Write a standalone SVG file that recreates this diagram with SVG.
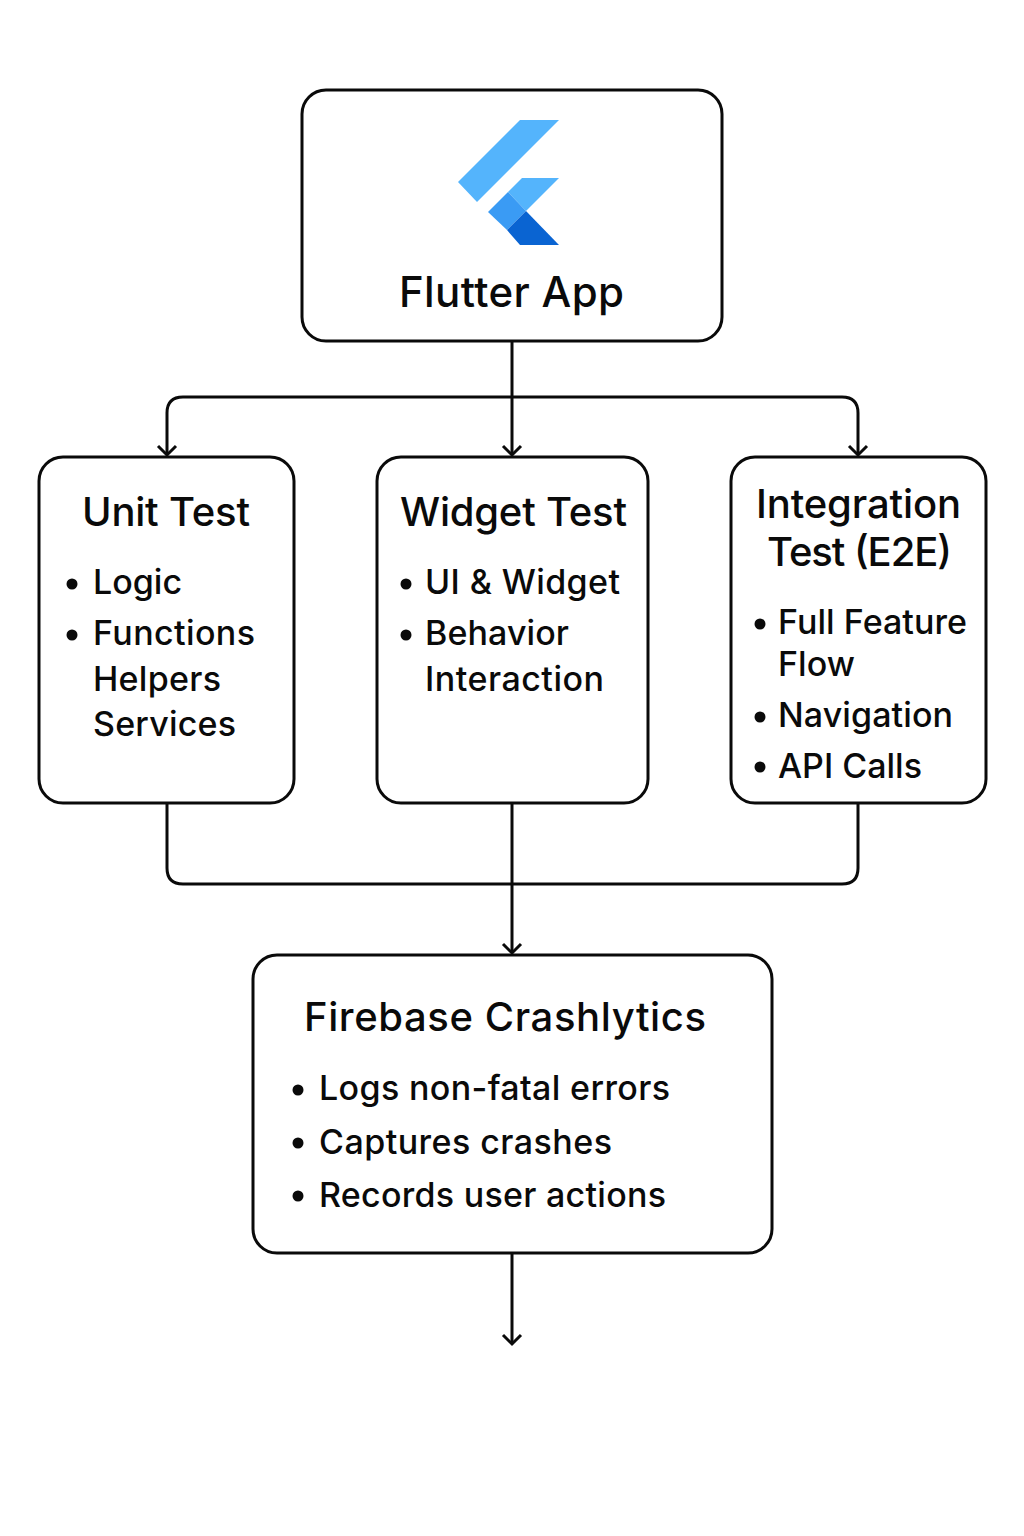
<svg xmlns="http://www.w3.org/2000/svg" width="1024" height="1536" viewBox="0 0 1024 1536">
<style>
.box{fill:#fff;stroke:#0a0a0a;stroke-width:3}
.c{fill:none;stroke:#0a0a0a;stroke-width:3}
.d{fill:#0a0a0a}
text{font-family:"Inter","Liberation Sans",sans-serif;fill:#0a0a0a;font-weight:450}
.t{font-size:40px}
.l{font-size:34px}
</style>
<rect width="1024" height="1536" fill="#fff"/>
<g id="connectors">
<path class="c" d="M512 342V455"/>
<path class="c" d="M512 397H183Q167 397 167 413V455"/>
<path class="c" d="M512 397H842Q858 397 858 413V455"/>
<path class="c" d="M167 803V868Q167 884 183 884H842Q858 884 858 868V803"/>
<path class="c" d="M512 803V953"/>
<path class="c" d="M512 1253V1344"/>
<path class="c" d="M158 446L167 455L176 446"/>
<path class="c" d="M503 446L512 455L521 446"/>
<path class="c" d="M849 446L858 455L867 446"/>
<path class="c" d="M503 944L512 953L521 944"/>
<path class="c" d="M503 1335L512 1344L521 1335"/>
</g>
<g id="flutter-app">
<rect class="box" x="302" y="90" width="420" height="251" rx="24"/>
<polygon points="520,120 559,120 477,202 458,182" fill="#54B4FC"/>
<polygon points="522,178 559,178 526,211 508,192" fill="#54B4FC"/>
<polygon points="508,192 526,211 507,230 488,212" fill="#3A9BF4"/>
<polygon points="526,211 559,245 520,245 507,230" fill="#0A64D2"/>
<text x="399" y="307" font-size="42" textLength="225">Flutter App</text>
</g>
<g id="unit-test">
<rect class="box" x="39" y="457" width="255" height="346" rx="24"/>
<text class="t" x="82" y="526" textLength="168">Unit Test</text>
<circle class="d" cx="72" cy="584" r="5.5"/>
<circle class="d" cx="72" cy="635" r="5.5"/>
<text class="l" x="93" y="594" textLength="89">Logic</text>
<text class="l" x="93" y="645" textLength="162">Functions</text>
<text class="l" x="93" y="691" textLength="128">Helpers</text>
<text class="l" x="93" y="736" textLength="143">Services</text>
</g>
<g id="widget-test">
<rect class="box" x="377" y="457" width="271" height="346" rx="24"/>
<text class="t" x="400" y="526" textLength="227">Widget Test</text>
<circle class="d" cx="406" cy="584" r="5.5"/>
<circle class="d" cx="406" cy="635" r="5.5"/>
<text class="l" x="425" y="594" textLength="195">UI &amp; Widget</text>
<text class="l" x="425" y="645" textLength="144">Behavior</text>
<text class="l" x="425" y="691" textLength="179">Interaction</text>
</g>
<g id="integration-test">
<rect class="box" x="731" y="457" width="255" height="346" rx="24"/>
<text class="t" x="756" y="518" textLength="205">Integration</text>
<text class="t" x="767" y="566" textLength="185">Test (E2E)</text>
<circle class="d" cx="760" cy="624" r="5.5"/>
<circle class="d" cx="760" cy="717" r="5.5"/>
<circle class="d" cx="760" cy="767" r="5.5"/>
<text class="l" x="778" y="634" textLength="189">Full Feature</text>
<text class="l" x="778" y="676" textLength="77">Flow</text>
<text class="l" x="778" y="727" textLength="175">Navigation</text>
<text class="l" x="778" y="778" textLength="144">API Calls</text>
</g>
<g id="firebase-crashlytics">
<rect class="box" x="253" y="955" width="519" height="298" rx="24"/>
<text class="t" x="304" y="1031" textLength="402">Firebase Crashlytics</text>
<circle class="d" cx="298" cy="1090" r="5.5"/>
<circle class="d" cx="298" cy="1143" r="5.5"/>
<circle class="d" cx="298" cy="1196" r="5.5"/>
<text class="l" x="319" y="1100" textLength="351">Logs non-fatal errors</text>
<text class="l" x="319" y="1154" textLength="293">Captures crashes</text>
<text class="l" x="319" y="1207" textLength="347">Records user actions</text>
</g>
</svg>
